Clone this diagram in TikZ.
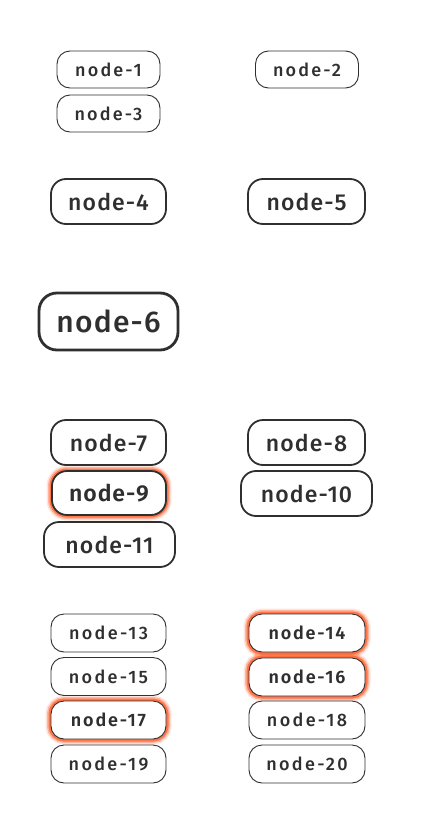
\documentclass[tikz,border=0pt]{standalone}
\usepackage{fontspec}
\setmainfont{Fira Sans}
\newfontfamily\fsA[LetterSpace=12]{Fira Sans Medium}
\newfontfamily\fsB[LetterSpace=5]{Fira Sans Medium}
\newfontfamily\fsD[LetterSpace=4]{Fira Sans Medium}
\newfontfamily\fsC[LetterSpace=13]{Fira Sans Medium}
\newfontfamily\fsCb[LetterSpace=10]{Fira Sans SemiBold}
\newfontfamily\fsBb[LetterSpace=4]{Fira Sans SemiBold}
\definecolor{ink}{HTML}{2F2F2F}
\definecolor{glowc}{HTML}{FF4A10}
\begin{document}
\begin{tikzpicture}[x=1pt,y=-1pt,
  base/.style={draw=ink, text=ink, fill=white, inner sep=0pt, align=center},
  smallbox/.style={base, minimum width=103pt, minimum height=37pt, rounded corners=13pt, line width=0.9pt, font=\fsA\fontsize{18}{20}\selectfont},
  medbox/.style={base, minimum width=115pt, minimum height=45pt, rounded corners=15pt, line width=1.8pt, font=\fsB\fontsize{23}{26}\selectfont},
  bigbox/.style={base, minimum width=139pt, minimum height=57pt, rounded corners=18pt, line width=2.8pt, font=\fsD\fontsize{30}{34}\selectfont},
  tinybox/.style={base, minimum width=115pt, minimum height=38pt, rounded corners=13pt, line width=0.9pt, font=\fsC\fontsize{18}{20}\selectfont},
  glow/.style={preaction={draw=glowc, draw opacity=0.15, line width=11pt},
               preaction={draw=glowc, draw opacity=0.3, line width=8pt},
               preaction={draw=glowc, draw opacity=0.6, line width=5pt}},
  glowtiny/.style={glow, font=\fsCb\fontsize{18}{20}\selectfont},
  glowmed/.style={glow, font=\fsBb\fontsize{23}{26}\selectfont}
]
\useasboundingbox[fill=white] (0,0) rectangle (423,827);
\node[smallbox] (n1) at (108.5,69.5) {node-1};
\node[smallbox] (n2) at (307,69.5) {node-2};
\node[smallbox] (n3) at (108.5,113.5) {node-3};
\node[medbox] (n4) at (108.5,201.5) {node-4};
\node[medbox, minimum width=117pt] (n5) at (306.5,201.5) {node-5};
\node[bigbox] (n6) at (108.5,321.5) {node-6};
\node[medbox] (n7) at (108.5,442.5) {node-7};
\node[medbox, minimum width=117pt] (n8) at (306.5,442.5) {node-8};
\node[medbox, minimum width=114pt, minimum height=44pt, glowmed] (n9) at (109,493) {node-9};
\node[medbox, minimum width=131pt] (n10) at (306.5,493.5) {node-10};
\node[medbox, minimum width=131pt] (n11) at (109.5,544.5) {node-11};
\node[tinybox] (n13) at (108.5,633) {node-13};
\node[tinybox, minimum width=116pt, glowtiny] (n14) at (307,633) {node-14};
\node[tinybox] (n15) at (108.5,676.5) {node-15};
\node[tinybox, minimum width=116pt, glowtiny] (n16) at (307,677) {node-16};
\node[tinybox, glowtiny] (n17) at (108.5,720) {node-17};
\node[tinybox, minimum width=116pt] (n18) at (307,720) {node-18};
\node[tinybox] (n19) at (108.5,764) {node-19};
\node[tinybox, minimum width=116pt] (n20) at (307,764) {node-20};
\end{tikzpicture}
\end{document}
